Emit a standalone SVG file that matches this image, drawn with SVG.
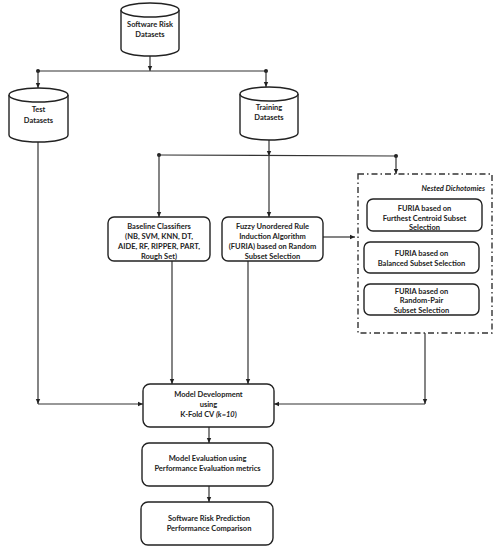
<svg xmlns="http://www.w3.org/2000/svg" width="501" height="550" viewBox="0 0 501 550">
<style>
text{font-family:Lato,"Liberation Sans",sans-serif;font-size:7.5px;font-weight:bold;fill:#222;text-anchor:middle}
.shape{fill:#fff;stroke:#222;stroke-width:1.4}
.line{fill:none;stroke:#333;stroke-width:1.2}
.dash{fill:none;stroke:#333;stroke-width:1.4;stroke-dasharray:6 3 1.5 3}
.it{font-style:italic}
</style>
<defs>
<marker id="ah" markerWidth="6" markerHeight="6" refX="5" refY="3" orient="auto" markerUnits="userSpaceOnUse">
<path d="M0,0.8 L5,3 L0,5.2 Z" fill="#222"/>
</marker>
</defs>
<rect width="501" height="550" fill="#fff"/>
<g id="connectors">
<line class="line" x1="150" y1="56" x2="150" y2="71" marker-end="url(#ah)"/>
<line class="line" x1="38" y1="71" x2="266" y2="71"/>
<circle cx="38" cy="71" r="2" fill="#222"/>
<circle cx="266" cy="71" r="2" fill="#222"/>
<line class="line" x1="38" y1="71" x2="38" y2="88" marker-end="url(#ah)"/>
<line class="line" x1="266" y1="71" x2="266" y2="87" marker-end="url(#ah)"/>
<line class="line" x1="269" y1="140" x2="269" y2="156" marker-end="url(#ah)"/>
<line class="line" x1="159" y1="155" x2="396" y2="156"/>
<circle cx="159" cy="155" r="2" fill="#222"/>
<circle cx="396" cy="156" r="2" fill="#222"/>
<line class="line" x1="159" y1="155" x2="159" y2="217" marker-end="url(#ah)"/>
<line class="line" x1="269" y1="156" x2="269" y2="217" marker-end="url(#ah)"/>
<line class="line" x1="396" y1="156" x2="396" y2="174" marker-end="url(#ah)"/>
<line class="line" x1="323" y1="237" x2="355" y2="237" marker-end="url(#ah)"/>
<line class="line" x1="38" y1="142" x2="38" y2="404" marker-end="url(#ah)"/>
<line class="line" x1="38" y1="404" x2="143" y2="404" marker-end="url(#ah)"/>
<line class="line" x1="425" y1="333" x2="425" y2="404" marker-end="url(#ah)"/>
<line class="line" x1="425" y1="404" x2="274" y2="404" marker-end="url(#ah)"/>
<line class="line" x1="172" y1="261" x2="172" y2="384" marker-end="url(#ah)"/>
<line class="line" x1="248" y1="261" x2="248" y2="384" marker-end="url(#ah)"/>
<line class="line" x1="209" y1="427" x2="209" y2="443" marker-end="url(#ah)"/>
<line class="line" x1="209" y1="486" x2="209" y2="502" marker-end="url(#ah)"/>
</g>
<g id="software-risk">
<path class="shape" d="M121,10 A29,7 0 0 1 179,10 V49 A29,7 0 0 1 121,49 Z"/>
<path class="shape" d="M121,10 A29,7 0 0 0 179,10"/>
<text x="150" y="27">Software Risk</text>
<text x="150" y="37">Datasets</text>
</g>
<g id="test">
<path class="shape" d="M9,95 A29.5,7 0 0 1 68,95 V135 A29.5,7 0 0 1 9,135 Z"/>
<path class="shape" d="M9,95 A29.5,7 0 0 0 68,95"/>
<text x="38.5" y="112">Test</text>
<text x="38.5" y="123">Datasets</text>
</g>
<g id="training">
<path class="shape" d="M240,94 A29,7 0 0 1 298,94 V133 A29,7 0 0 1 240,133 Z"/>
<path class="shape" d="M240,94 A29,7 0 0 0 298,94"/>
<text x="269" y="110">Training</text>
<text x="269" y="120">Datasets</text>
</g>
<g id="baseline">
<rect class="shape" x="108" y="217" width="102" height="44" rx="6"/>
<text x="159" y="228.5">Baseline Classifiers</text>
<text x="159" y="238.5">(NB, SVM, KNN, DT,</text>
<text x="159" y="248.5">AIDE, RF, RIPPER, PART,</text>
<text x="159" y="259">Rough Set)</text>
</g>
<g id="furia-random">
<rect class="shape" x="222" y="217" width="101" height="44" rx="6"/>
<text x="272.5" y="228.5">Fuzzy Unordered Rule</text>
<text x="272.5" y="238.5">Induction  Algorithm</text>
<text x="272.5" y="248.5">(FURIA) based on Random</text>
<text x="272.5" y="258.5">Subset Selection</text>
</g>
<g id="nested">
<rect class="dash" x="358" y="174" width="134" height="159"/>
<text class="it" x="485" y="190.5" style="text-anchor:end">Nested Dichotomies</text>
</g>
<g id="furia-centroid">
<rect class="shape" x="367" y="199" width="115" height="32" rx="6"/>
<text x="424.5" y="210.5">FURIA based on</text>
<text x="424.5" y="220.5">Furthest Centroid  Subset</text>
<text x="424.5" y="230">Selection</text>
</g>
<g id="furia-balanced">
<rect class="shape" x="364" y="242" width="115" height="31" rx="6"/>
<text x="421.5" y="255.5">FURIA based on</text>
<text x="421.5" y="265.5">Balanced  Subset Selection</text>
</g>
<g id="furia-randompair">
<rect class="shape" x="364" y="284" width="115" height="31" rx="6"/>
<text x="421.5" y="293.5">FURIA based on</text>
<text x="421.5" y="303">Random-Pair</text>
<text x="421.5" y="312.5">Subset Selection</text>
</g>
<g id="model-dev">
<rect class="shape" x="143" y="384" width="131" height="43" rx="7"/>
<text x="208.5" y="396.5">Model Development</text>
<text x="208.5" y="406.5">using</text>
<text x="208.5" y="416.5">K-Fold CV <tspan class="it">(k=10</tspan>)</text>
</g>
<g id="model-eval">
<rect class="shape" x="142" y="443" width="131" height="43" rx="7"/>
<text x="207.5" y="460.5">Model Evaluation using</text>
<text x="207.5" y="470.5">Performance Evaluation metrics</text>
</g>
<g id="comparison">
<rect class="shape" x="141" y="502" width="132" height="43" rx="7"/>
<text x="209" y="520.5">Software Risk Prediction</text>
<text x="209" y="530.5">Performance Comparison</text>
</g>
</svg>
